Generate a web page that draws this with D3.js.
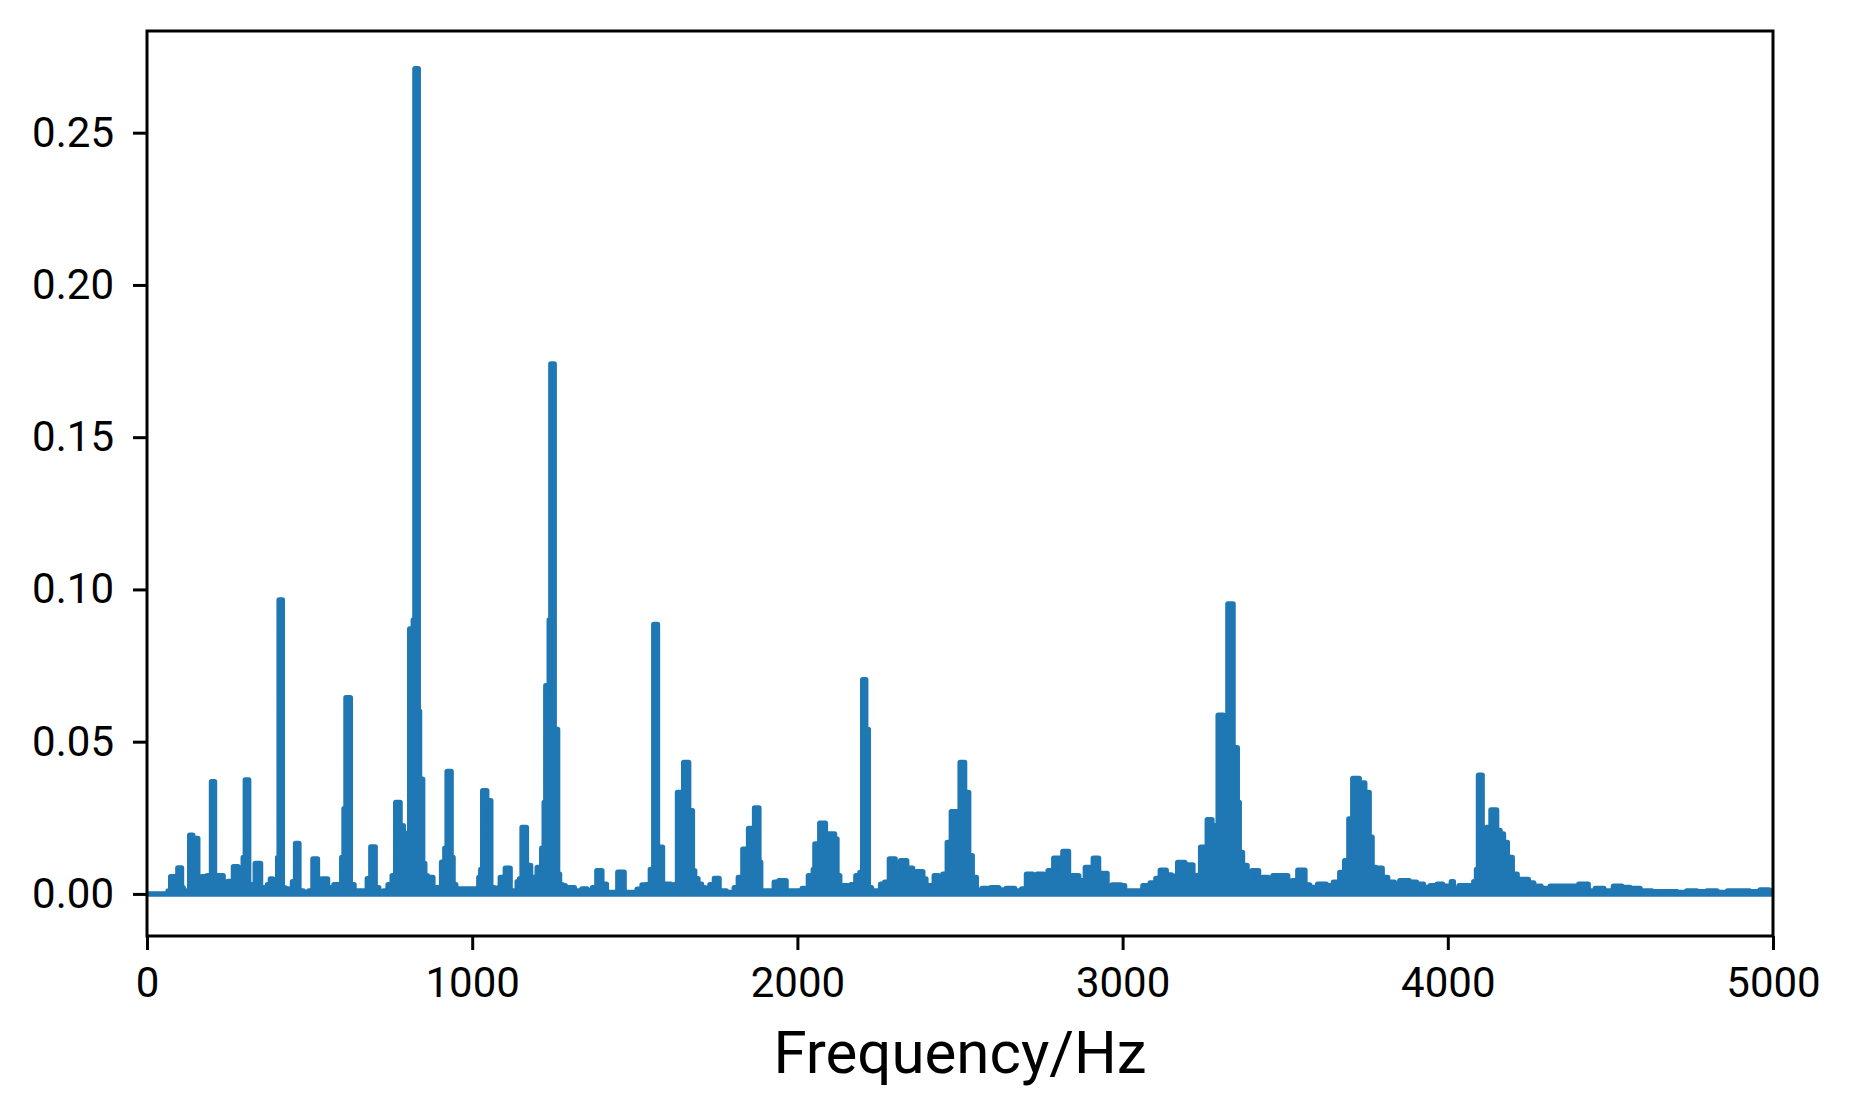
<!DOCTYPE html>
<html>
<head>
<meta charset="utf-8">
<script src="https://cdn.jsdelivr.net/npm/d3@7"></script>
<style>
  body { margin: 0; background: #fff; }
  .tick text { font-family: Roboto, "Open Sans", sans-serif; }
</style>
</head>
<body>
<div id="chart"></div>
<script>
// spectrum envelope: frequency (Hz) and amplitude
var freqHz = [
  0, 60, 70, 76, 88, 92, 98, 104, 108, 114,
  130, 133, 137, 144, 150, 154, 158, 166, 172, 176, 180, 190, 196, 201, 205, 210,
  226, 232, 236, 246, 252, 258, 262, 270, 277, 282, 292, 300, 305, 310, 315,
  326, 340, 346, 352, 365, 376, 383, 390, 400, 404, 409, 414, 418,
  430, 440, 455, 459, 464, 470, 490, 505, 516, 521, 527, 545, 552, 558,
  570, 580, 594, 604, 608, 616, 622, 628, 645, 670, 685, 692, 698, 705,
  720, 735, 748, 760, 770, 776, 780, 786, 790, 794,
  800, 806, 810, 816, 822, 826, 832, 836, 840, 845, 850, 858, 866, 870, 876, 882,
  900, 912, 920, 926, 932, 938, 944, 955, 985, 1000, 1018, 1023, 1030, 1035, 1041, 1048, 1054, 1060,
  1075, 1085, 1088, 1093, 1098, 1106, 1113, 1120, 1135, 1142, 1150, 1157, 1163, 1170, 1177, 1182,
  1195, 1205, 1210, 1218, 1225, 1228, 1234, 1240, 1244, 1250, 1254, 1260, 1265, 1272, 1282, 1290,
  1305, 1310, 1318, 1330, 1345, 1360, 1380, 1387, 1395, 1402, 1410, 1415, 1440, 1456, 1464, 1470,
  1500, 1515, 1530, 1540, 1556, 1561, 1567, 1572, 1582, 1588, 1600, 1606, 1615,
  1628, 1635, 1641, 1644, 1657, 1663, 1668, 1674, 1680, 1688, 1700, 1710, 1722, 1740, 1750, 1756, 1762,
  1800, 1812, 1825, 1840, 1846, 1854, 1860, 1864, 1873, 1879, 1884, 1890, 1925, 1933, 1953, 1960, 1970,
  2000, 2030, 2038, 2046, 2052, 2056, 2062, 2076, 2082, 2090, 2104, 2110, 2118, 2125, 2135, 2155,
  2175, 2185, 2200, 2202, 2208, 2212, 2216, 2220, 2235, 2250, 2262, 2275, 2291, 2298, 2303, 2311,
  2324, 2332, 2340, 2350, 2358, 2373, 2381, 2390, 2400, 2416, 2426, 2440, 2455, 2467, 2480, 2488,
  2496, 2505, 2511, 2517, 2523, 2530, 2545, 2555, 2580, 2610, 2628, 2656, 2680, 2700, 2709, 2717,
  2730, 2744, 2752, 2762, 2780, 2797, 2805, 2812, 2821, 2829, 2838, 2852, 2860, 2870, 2880, 2891,
  2899, 2906, 2914, 2922, 2930, 2940, 2948, 2956, 2980, 2990, 3000, 3012, 3050, 3075, 3095, 3110,
  3122, 3128, 3140, 3160, 3179, 3187, 3195, 3204, 3212, 3220, 3235, 3245, 3251, 3258, 3263, 3271,
  3278, 3288, 3300, 3308, 3312, 3320, 3328, 3336, 3343, 3350, 3355, 3362, 3375, 3390, 3406, 3414,
  3422, 3440, 3455, 3470, 3490, 3500, 3515, 3530, 3548, 3556, 3565, 3585, 3615, 3637, 3660, 3676,
  3690, 3702, 3714, 3722, 3733, 3741, 3748, 3754, 3762, 3772, 3786, 3794, 3802, 3828, 3843, 3862,
  3870, 3892, 3915, 3935, 3957, 3978, 3990, 4008, 4014, 4020, 4050, 4075, 4085, 4092, 4097, 4103,
  4108, 4118, 4122, 4128, 4138, 4145, 4155, 4166, 4176, 4190, 4206, 4220, 4240, 4255, 4273, 4300,
  4330, 4360, 4386, 4420, 4443, 4465, 4494, 4525, 4545, 4575, 4607, 4648, 4690, 4720, 4750, 4782,
  4812, 4843, 4878, 4910, 4945, 4976, 5000
];
var amplitude = [
  0, 0, 0.001, 0.0056, 0.0056, 0.003, 0.0085, 0.0085, 0.002, 0.0005,
  0.001, 0.0193, 0.0193, 0.004, 0.0182, 0.0182, 0.002, 0.003, 0.0056, 0.0056, 0.002, 0.006, 0.003, 0.0368, 0.0368, 0.003,
  0.006, 0.006, 0.001, 0.002, 0.0041, 0.0041, 0.002, 0.0089, 0.0089, 0.002, 0.004, 0.012, 0.0374, 0.0374, 0.002,
  0.003, 0.01, 0.01, 0.002, 0.001, 0.003, 0.0049, 0.003, 0.003, 0.012, 0.0965, 0.0965, 0.002,
  0.0016, 0.001, 0.004, 0.0166, 0.0166, 0.001, 0.0005, 0.001, 0.0115, 0.0115, 0.001, 0.0049, 0.0049, 0.001,
  0.002, 0.003, 0.003, 0.012, 0.028, 0.0644, 0.0644, 0.003, 0.001, 0.001, 0.005, 0.0154, 0.0154, 0.002,
  0.0006, 0.001, 0.003, 0.006, 0.030, 0.030, 0.0224, 0.0224, 0.0158, 0.0158,
  0.008, 0.02, 0.087, 0.087, 0.09, 0.271, 0.271, 0.06, 0.0377, 0.0377, 0.01, 0.006, 0.003, 0.0054, 0.0054, 0.001,
  0.002, 0.0104, 0.015, 0.0402, 0.0402, 0.012, 0.003, 0.0016, 0.0016, 0.0016, 0.0016, 0.0054, 0.008, 0.0339, 0.0339, 0.0306, 0.0306, 0.002,
  0.0005, 0.002, 0.0054, 0.0054, 0.002, 0.0084, 0.0084, 0.001, 0.001, 0.004, 0.005, 0.0218, 0.0218, 0.009, 0.0093, 0.005,
  0.0054, 0.0087, 0.0087, 0.015, 0.03, 0.0684, 0.0684, 0.09, 0.174, 0.174, 0.054, 0.054, 0.0065, 0.003, 0.0027, 0.001,
  0.002, 0.002, 0.0005, 0.001, 0.0016, 0.001, 0.002, 0.0076, 0.0076, 0.0032, 0.0032, 0.0005, 0.0005, 0.0071, 0.0071, 0.0005,
  0.0005, 0.0015, 0.0029, 0.003, 0.008, 0.0885, 0.0885, 0.0153, 0.0153, 0.002, 0.0032, 0.0032, 0.001,
  0.003, 0.0333, 0.0333, 0.025, 0.0432, 0.0432, 0.0273, 0.0273, 0.0076, 0.005, 0.0032, 0.002, 0.001, 0.003, 0.0051, 0.0051, 0.001,
  0.0005, 0.002, 0.0054, 0.0147, 0.0147, 0.0215, 0.0215, 0.012, 0.0282, 0.0282, 0.0104, 0.001, 0.001, 0.0038, 0.0043, 0.0043, 0.001,
  0.001, 0.0018, 0.006, 0.006, 0.008, 0.0164, 0.0164, 0.0232, 0.0232, 0.0158, 0.0197, 0.0197, 0.018, 0.006, 0.0027, 0.0027,
  0.003, 0.006, 0.007, 0.0703, 0.0703, 0.054, 0.054, 0.002, 0.001, 0.001, 0.0032, 0.0038, 0.0115, 0.0115, 0.0065, 0.0065,
  0.0109, 0.0109, 0.0084, 0.0084, 0.0054, 0.0073, 0.0073, 0.0049, 0.0027, 0.0027, 0.006, 0.0051, 0.0065, 0.0169, 0.027, 0.027,
  0.0246, 0.0432, 0.0432, 0.0333, 0.0333, 0.0125, 0.0054, 0.001, 0.0018, 0.002, 0.0013, 0.0018, 0.001, 0.0016, 0.0065, 0.0065,
  0.0038, 0.0065, 0.0065, 0.0062, 0.0076, 0.0117, 0.0117, 0.006, 0.0139, 0.0139, 0.0027, 0.006, 0.006, 0.0032, 0.0043, 0.0087,
  0.0087, 0.006, 0.0117, 0.0117, 0.0054, 0.0067, 0.0067, 0.0025, 0.0029, 0.0029, 0.0027, 0.001, 0.001, 0.0027, 0.0036, 0.0051,
  0.0078, 0.0078, 0.0062, 0.0058, 0.0103, 0.0103, 0.006, 0.0095, 0.0095, 0.0054, 0.006, 0.0153, 0.0153, 0.010, 0.0244, 0.0244,
  0.0142, 0.0224, 0.0587, 0.0587, 0.0525, 0.0525, 0.0952, 0.0952, 0.048, 0.048, 0.030, 0.0136, 0.0093, 0.0065, 0.0076, 0.0076,
  0.0032, 0.0054, 0.0047, 0.006, 0.006, 0.006, 0.0038, 0.0043, 0.0078, 0.0078, 0.0029, 0.0021, 0.0032, 0.0027, 0.0038, 0.007,
  0.0109, 0.0246, 0.0379, 0.0379, 0.0364, 0.0364, 0.0333, 0.0333, 0.0186, 0.0087, 0.0084, 0.0084, 0.0054, 0.0038, 0.0025, 0.0043,
  0.0043, 0.0038, 0.0032, 0.0021, 0.0027, 0.0032, 0.0025, 0.0025, 0.004, 0.0018, 0.0027, 0.0027, 0.004, 0.008, 0.039, 0.039,
  0.01, 0.018, 0.0218, 0.0218, 0.0276, 0.0276, 0.0208, 0.0197, 0.0169, 0.012, 0.0065, 0.0047, 0.0047, 0.0036, 0.0025, 0.0018,
  0.0025, 0.0025, 0.0025, 0.0032, 0.001, 0.0018, 0.001, 0.0025, 0.0021, 0.0018, 0.001, 0.0007, 0.0007, 0.0005, 0.001, 0.0007,
  0.001, 0.0005, 0.001, 0.001, 0.0007, 0.0013, 0.001
];
var xTicks = [0, 1000, 2000, 3000, 4000, 5000];
var yTicks = [0.00, 0.05, 0.10, 0.15, 0.20, 0.25];
var xLabel = "Frequency/Hz";

var W = 1854, H = 1118;
var margin = {top: 31, right: 81, bottom: 182, left: 147};
var width = W - margin.left - margin.right;
var height = H - margin.top - margin.bottom;

var svg = d3.select("#chart")
            .append("svg")
              .attr("width", W)
              .attr("height", H)
            .append("g")
              .attr("transform", "translate(" + margin.left + "," + margin.top + ")");

var data = freqHz.map(function(f, i) { return {f: f, a: amplitude[i]}; });

var x = d3.scaleLinear().domain([0, 5000]).range([0, width]);
var y = d3.scaleLinear().domain([-0.01382, 0.2834]).range([height, 0]);

svg.append("clipPath")
    .attr("id", "plotclip")
  .append("rect")
    .attr("width", width)
    .attr("height", height);

// filled envelope under the trace, stepped so the dense spikes keep vertical sides
var area = d3.area()
    .curve(d3.curveStep)
    .x(function(d) { return x(d.f); })
    .y0(y(0))
    .y1(function(d) { return y(d.a); });

svg.append("path")
    .datum(data)
    .attr("clip-path", "url(#plotclip)")
    .attr("d", area)
    .attr("fill", "#1f77b4")
    .attr("stroke", "#1f77b4")
    .attr("stroke-width", 5.5)
    .attr("stroke-linejoin", "round");

// x axis
var xAxis = svg.append("g")
    .attr("transform", "translate(0," + height + ")")
    .call(d3.axisBottom(x).tickValues(xTicks).tickFormat(d3.format("d"))
            .tickSize(14).tickSizeOuter(0).tickPadding(17));

// y axis
var yAxis = svg.append("g")
    .call(d3.axisLeft(y).tickValues(yTicks).tickFormat(d3.format(".2f"))
            .tickSize(14).tickSizeOuter(0).tickPadding(19));

[xAxis, yAxis].forEach(function(ax) {
  ax.select(".domain").remove();
  ax.selectAll(".tick line").attr("stroke", "#000").attr("stroke-width", 3);
  ax.selectAll(".tick text")
      .attr("fill", "#000")
      .attr("font-size", "42px");
});

// frame
svg.append("rect")
    .attr("width", width)
    .attr("height", height)
    .attr("fill", "none")
    .attr("stroke", "#000")
    .attr("stroke-width", 3);

svg.append("text")
    .attr("text-anchor", "middle")
    .attr("font-family", "Roboto, 'Open Sans', sans-serif")
    .attr("font-size", "60px")
    .attr("x", width / 2)
    .attr("y", 1073 - margin.top)
    .text(xLabel);
</script>
</body>
</html>
